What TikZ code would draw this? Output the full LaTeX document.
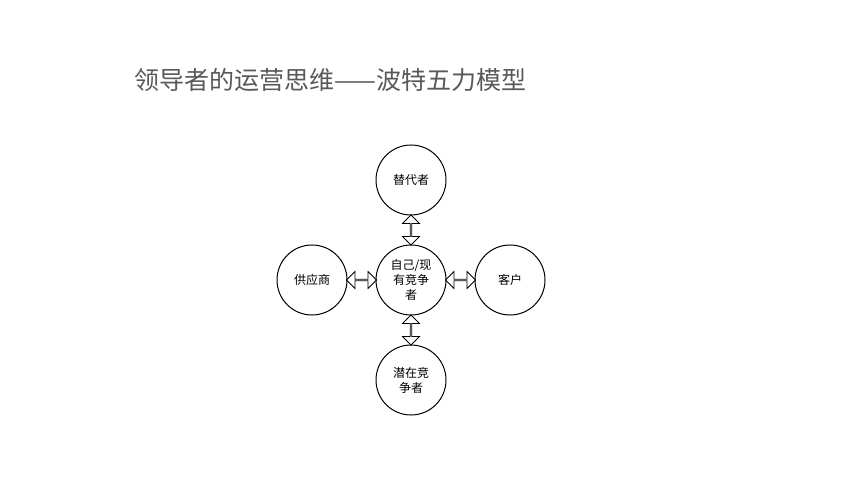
\documentclass[tikz,border=0pt]{standalone}
\usepackage{fontspec}
\newfontfamily\cjk{Noto Sans CJK SC}
\usetikzlibrary{shapes.arrows,calc}
\begin{document}
\begin{tikzpicture}[x=1pt,y=-1pt,
  circ/.style={draw,circle,line width=1pt,minimum size=70pt,inner sep=0pt,align=center,font=\cjk\fontsize{12}{15}\selectfont},
  darr/.style={draw,double arrow,line width=0.8pt,minimum height=30pt,minimum width=17pt,double arrow head extend=4pt,inner sep=0pt}]
\useasboundingbox (0,0) rectangle (864,486);
\node[anchor=west,font=\cjk\fontsize{25}{30}\selectfont,text=black!65] (title) at (131,80) {领导者的运营思维——波特五力模型};
\node[circ] (c) at (411,280) {自己/现\\有竞争\\者};
\node[circ] (t) at (411,180) {替代者};
\node[circ] (l) at (312,280) {供应商};
\node[circ] (r) at (510,280) {客户};
\node[circ] (b) at (411,380) {潜在竞\\争者};
\node[darr,rotate=90] (a1) at ($(c.north)!0.5!(t.south)$) {};
\node[darr,rotate=90] (a2) at ($(c.south)!0.5!(b.north)$) {};
\node[darr] (a3) at ($(c.west)!0.5!(l.east)$) {};
\node[darr] (a4) at ($(c.east)!0.5!(r.west)$) {};
\end{tikzpicture}
\end{document}
